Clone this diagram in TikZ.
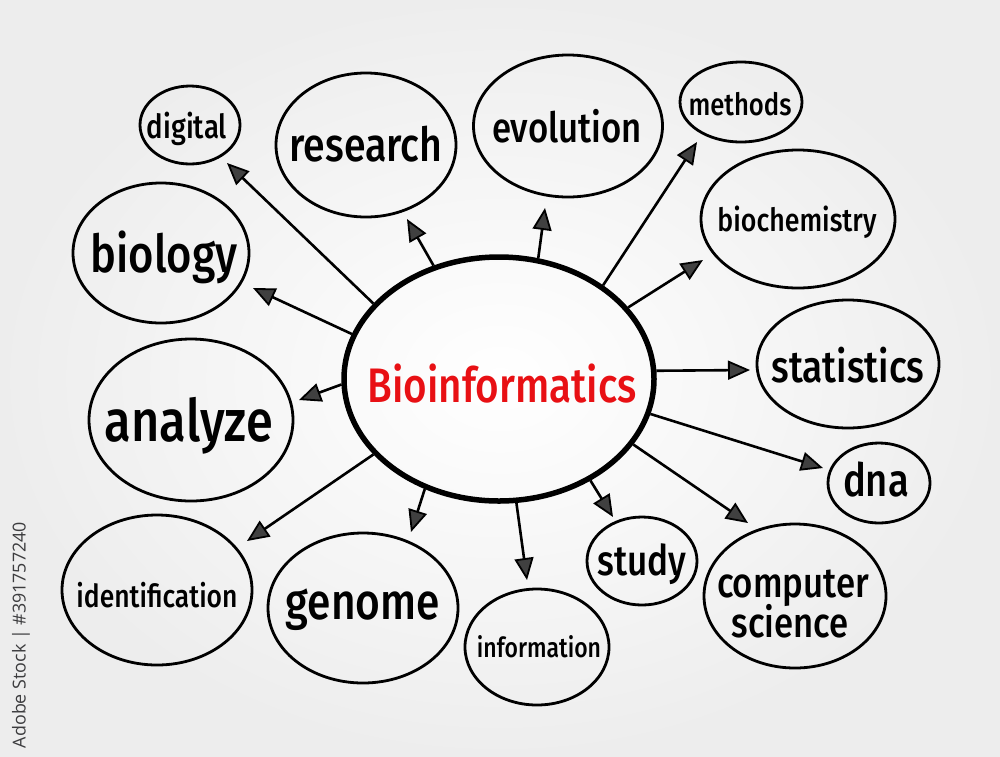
\documentclass[tikz,border=0pt]{standalone}
\usepackage{fontspec}
\setmainfont{Fira Sans}[UprightFont=* Medium]
\newfontfamily\wmfont{Open Sans}
\usetikzlibrary{shapes.geometric,arrows.meta}
\definecolor{bioRed}{RGB}{232,16,20}
\definecolor{wmGray}{RGB}{60,60,62}
\newcommand{\hw}[2]{\scalebox{1}[1.2]{\resizebox{#1}{!}{#2}}}
\begin{document}
\begin{tikzpicture}[x=1pt,y=-1pt,
  bub/.style={ellipse, draw=black, line width=2.8pt, inner sep=0pt},
  lbl/.style={inner sep=0pt, text=black},
  arr/.style={draw=black, line width=2.6pt, -{Triangle[length=22pt,width=19pt,fill=black!75,line width=1.8pt]}}]
\shade[inner color=white, outer color=black!7] (0,0) rectangle (1000,756);
\useasboundingbox (0,0) rectangle (1000,756);

% outer ellipses
\node[bub, minimum width=100pt, minimum height=78pt]  (dig) at (190,125) {};
\node[bub, minimum width=180pt, minimum height=144pt] (res) at (366,145) {};
\node[bub, minimum width=189pt, minimum height=142pt] (evo) at (568,126) {};
\node[bub, minimum width=122pt, minimum height=80pt]  (met) at (741,102) {};
\node[bub, minimum width=194pt, minimum height=138pt] (bch) at (798,219) {};
\node[bub, minimum width=176pt, minimum height=140pt] (bio) at (161,253) {};
\node[bub, minimum width=182pt, minimum height=128pt] (sta) at (848,364) {};
\node[bub, minimum width=204pt, minimum height=162pt] (ana) at (191,420) {};
\node[bub, minimum width=102pt, minimum height=80pt]  (dna) at (879,483) {};
\node[bub, minimum width=190pt, minimum height=150pt] (ide) at (157,590) {};
\node[bub, minimum width=190pt, minimum height=150pt] (gen) at (363,608) {};
\node[bub, minimum width=144pt, minimum height=116pt] (inf) at (537,647) {};
\node[bub, minimum width=110pt, minimum height=88pt]  (stu) at (642,561) {};
\node[bub, minimum width=182pt, minimum height=144pt] (com) at (795,596) {};

% central ellipse
\node[bub, line width=5.5pt, minimum width=310pt, minimum height=244pt] (C) at (499,379) {};

% texts
\node[lbl] (digT) at (187,129) {\hw{80pt}{digital}};
\node[lbl] (resT) at (366,144) {\hw{153pt}{research}};
\node[lbl] (evoT) at (567,126) {\hw{150pt}{evolution}};
\node[lbl] (metT) at (740,104) {\hw{103pt}{methods}};
\node[lbl] (bchT) at (797,222) {\hw{159pt}{biochemistry}};
\node[lbl] (bioT) at (164,257) {\hw{147pt}{biology}};
\node[lbl] (staT) at (848,365) {\hw{153pt}{statistics}};
\node[lbl] (anaT) at (189,426) {\hw{168pt}{analyze}};
\node[lbl] (dnaT) at (876,480) {\hw{66pt}{dna}};
\node[lbl] (ideT) at (157,595) {\hw{161pt}{identification}};
\node[lbl] (genT) at (363,610) {\hw{154pt}{genome}};
\node[lbl] (infT) at (539,647) {\hw{124pt}{information}};
\node[lbl] (stuT) at (642,564) {\hw{89pt}{study}};
\node[lbl] (comT1) at (793,588) {\hw{152pt}{computer}};
\node[lbl] (comT2) at (790,621) {\hw{117pt}{science}};
\node[lbl, text=bioRed] (cT) at (502,384) {\hw{269pt}{Bioinformatics}};

% arrow tips
\coordinate (tDig) at (227,163);
\coordinate (tBio) at (253,288);
\coordinate (tRes) at (407,219);
\coordinate (tEvo) at (545,208);
\coordinate (tMet) at (697,142);
\coordinate (tBch) at (703,260);
\coordinate (tAna) at (299,400);
\coordinate (tIde) at (247,541);
\coordinate (tGen) at (411,532);
\coordinate (tSta) at (750,370);
\coordinate (tDna) at (823,468);
\coordinate (tCom) at (748,523);
\coordinate (tStu) at (613,517);
\coordinate (tInf) at (527,580);

% arrows
\draw[arr] (C.149.6) -- (tDig);
\draw[arr] (C.163.3) -- (tBio);
\draw[arr] (C.120.8) -- (tRes);
\draw[arr] (C.72.7)  -- (tEvo);
\draw[arr] (C.42.5)  -- (tMet);
\draw[arr] (C.29.9)  -- (tBch);
\draw[arr] (C.182.9) -- (tAna);
\draw[arr] (C.211.5) -- (tIde);
\draw[arr] (C.236.8) -- (tGen);
\draw[arr] (C.3.7)   -- (tSta);
\draw[arr] (C.347.6) -- (tDna);
\draw[arr] (C.334.4) -- (tCom);
\draw[arr] (C.312)   -- (tStu);
\draw[arr] (C.278.3) -- (tInf);

% side caption
\node[rotate=90, inner sep=0pt, text=wmGray] (wm) at (21,635) {\resizebox{226pt}{!}{\wmfont Adobe Stock | \#391757240}};
\end{tikzpicture}
\end{document}
